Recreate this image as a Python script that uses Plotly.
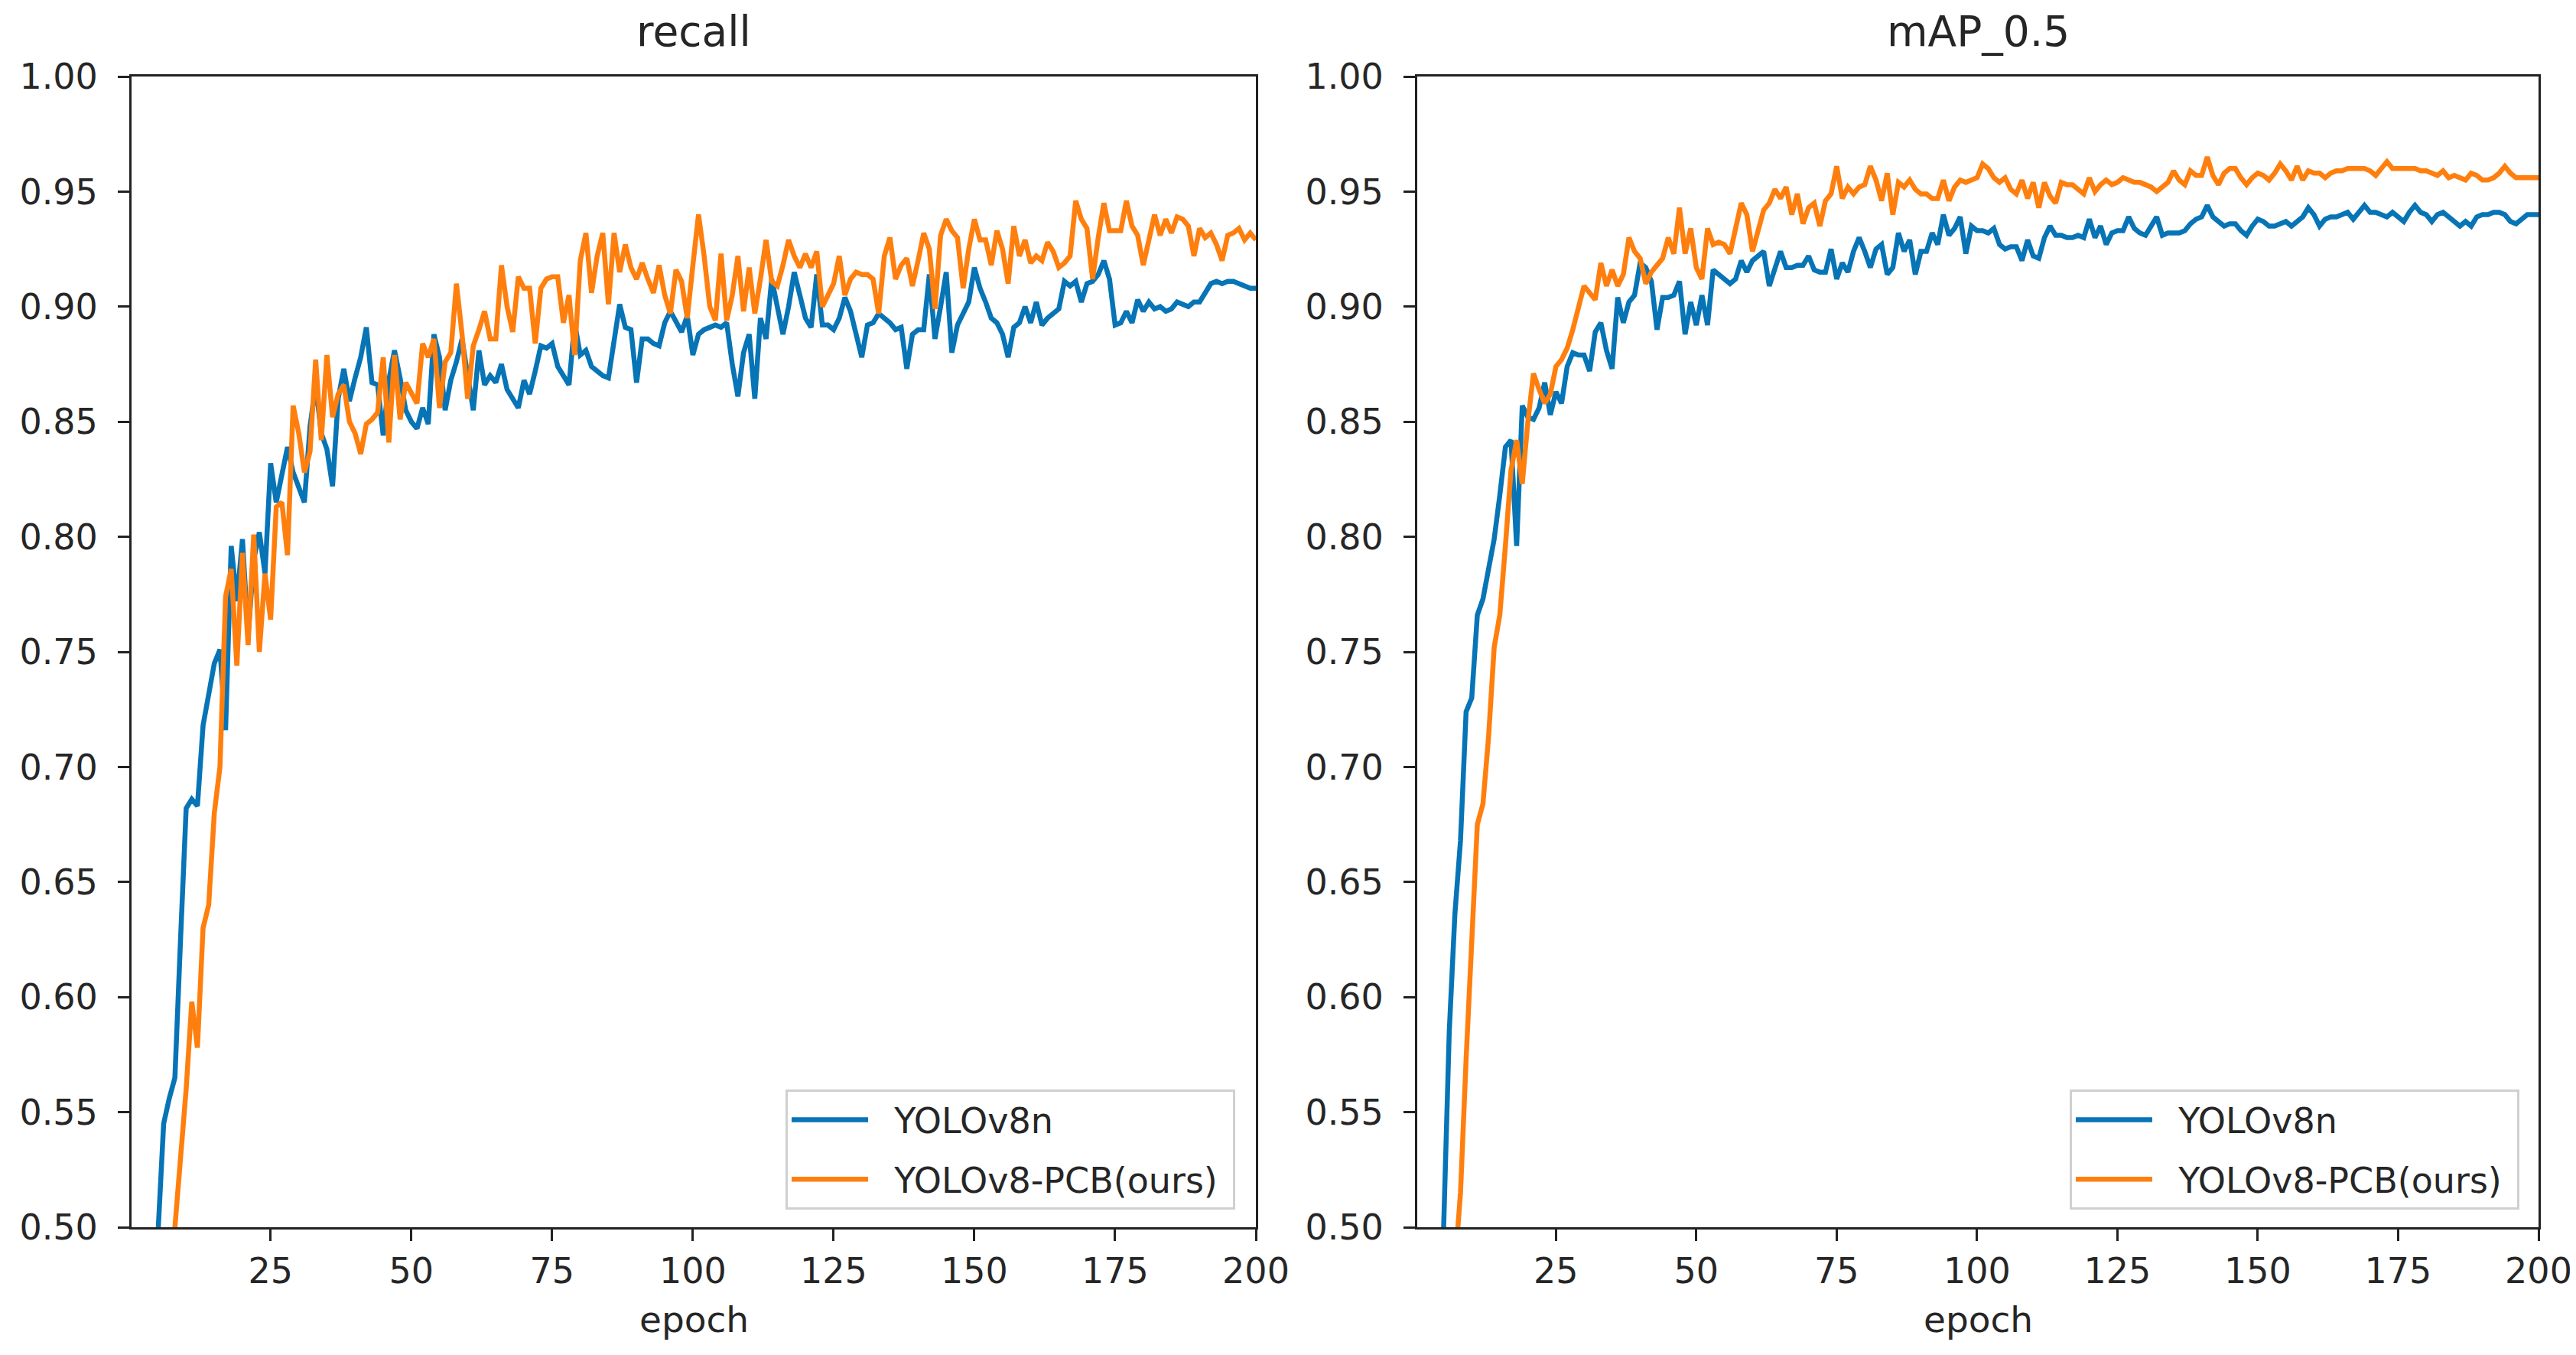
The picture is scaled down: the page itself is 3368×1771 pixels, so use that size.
import plotly.graph_objects as go

epochs = list(range(1, 201))

recall_yolov8n = [
    0.200, 0.300, 0.380, 0.450, 0.500, 0.545, 0.556, 0.565, 0.625, 0.682,
    0.686, 0.683, 0.718, 0.732, 0.745, 0.751, 0.716, 0.796, 0.772, 0.799,
    0.757, 0.790, 0.802, 0.784, 0.832, 0.815, 0.826, 0.839, 0.828, 0.822,
    0.815, 0.848, 0.866, 0.845, 0.838, 0.822, 0.860, 0.873, 0.859, 0.869,
    0.878, 0.891, 0.867, 0.866, 0.844, 0.868, 0.881, 0.869, 0.855, 0.850,
    0.847, 0.856, 0.849, 0.888, 0.878, 0.855, 0.868, 0.876, 0.886, 0.870,
    0.855, 0.881, 0.866, 0.870, 0.867, 0.875, 0.864, 0.860, 0.856, 0.868,
    0.862, 0.872, 0.883, 0.882, 0.884, 0.874, 0.870, 0.866, 0.893, 0.879,
    0.881, 0.874, 0.872, 0.870, 0.869, 0.885, 0.901, 0.891, 0.890, 0.867,
    0.886, 0.886, 0.884, 0.883, 0.893, 0.898, 0.893, 0.889, 0.896, 0.879,
    0.888, 0.890, 0.891, 0.892, 0.891, 0.893, 0.875, 0.861, 0.880, 0.888,
    0.860, 0.895, 0.886, 0.912, 0.900, 0.888, 0.900, 0.915, 0.905, 0.895,
    0.891, 0.914, 0.892, 0.892, 0.890, 0.895, 0.904, 0.898, 0.888, 0.878,
    0.892, 0.893, 0.897, 0.895, 0.893, 0.890, 0.891, 0.873, 0.888, 0.890,
    0.890, 0.914, 0.886, 0.900, 0.915, 0.880, 0.892, 0.897, 0.902, 0.917,
    0.908, 0.902, 0.895, 0.893, 0.888, 0.878, 0.891, 0.893, 0.900, 0.893,
    0.902, 0.892, 0.895, 0.897, 0.899, 0.911, 0.909, 0.911, 0.902, 0.910,
    0.911, 0.914, 0.920, 0.912, 0.892, 0.893, 0.898, 0.893, 0.903, 0.898,
    0.902, 0.899, 0.900, 0.898, 0.899, 0.902, 0.901, 0.900, 0.902, 0.902,
    0.906, 0.910, 0.911, 0.910, 0.911, 0.911, 0.910, 0.909, 0.908, 0.908,
]

recall_pcb = [
    0.150, 0.220, 0.300, 0.360, 0.410, 0.450, 0.480, 0.500, 0.530, 0.560,
    0.598, 0.578, 0.630, 0.640, 0.680, 0.700, 0.774, 0.786, 0.744, 0.793,
    0.753, 0.801, 0.750, 0.784, 0.764, 0.813, 0.815, 0.792, 0.857, 0.845,
    0.828, 0.837, 0.877, 0.842, 0.879, 0.852, 0.862, 0.866, 0.850, 0.845,
    0.836, 0.849, 0.851, 0.854, 0.878, 0.841, 0.879, 0.851, 0.867, 0.862,
    0.858, 0.884, 0.878, 0.886, 0.856, 0.876, 0.880, 0.910, 0.888, 0.860,
    0.883, 0.890, 0.898, 0.886, 0.886, 0.918, 0.900, 0.889, 0.913, 0.908,
    0.908, 0.884, 0.908, 0.912, 0.913, 0.913, 0.893, 0.905, 0.879, 0.920,
    0.932, 0.906, 0.922, 0.932, 0.901, 0.932, 0.915, 0.927, 0.917, 0.912,
    0.919, 0.912, 0.906, 0.918, 0.905, 0.897, 0.916, 0.911, 0.895, 0.918,
    0.940, 0.922, 0.900, 0.894, 0.923, 0.894, 0.905, 0.922, 0.898, 0.917,
    0.897, 0.912, 0.929, 0.911, 0.909, 0.918, 0.929, 0.922, 0.917, 0.923,
    0.917, 0.924, 0.900, 0.905, 0.910, 0.922, 0.905, 0.912, 0.915, 0.914,
    0.914, 0.912, 0.897, 0.922, 0.930, 0.912, 0.918, 0.921, 0.909, 0.920,
    0.932, 0.925, 0.899, 0.931, 0.938, 0.933, 0.930, 0.908, 0.925, 0.938,
    0.929, 0.929, 0.918, 0.933, 0.925, 0.910, 0.935, 0.922, 0.929, 0.919,
    0.922, 0.920, 0.928, 0.924, 0.917, 0.919, 0.922, 0.946, 0.938, 0.934,
    0.912, 0.930, 0.945, 0.933, 0.933, 0.933, 0.946, 0.935, 0.931, 0.918,
    0.929, 0.940, 0.931, 0.938, 0.932, 0.939, 0.938, 0.935, 0.922, 0.934,
    0.930, 0.932, 0.927, 0.920, 0.931, 0.932, 0.934, 0.929, 0.932, 0.929,
]

map50_yolov8n = [
    0.200, 0.300, 0.400, 0.460, 0.500, 0.585, 0.636, 0.668, 0.724, 0.730,
    0.766, 0.773, 0.787, 0.799, 0.818, 0.839, 0.842, 0.796, 0.857, 0.852,
    0.851, 0.856, 0.867, 0.853, 0.863, 0.858, 0.874, 0.880, 0.879, 0.879,
    0.872, 0.889, 0.893, 0.881, 0.873, 0.904, 0.893, 0.902, 0.905, 0.919,
    0.917, 0.911, 0.890, 0.904, 0.904, 0.905, 0.911, 0.888, 0.902, 0.892,
    0.905, 0.892, 0.916, 0.914, 0.912, 0.910, 0.912, 0.920, 0.915, 0.920,
    0.922, 0.924, 0.909, 0.917, 0.924, 0.917, 0.917, 0.918, 0.918, 0.922,
    0.916, 0.915, 0.915, 0.925, 0.912, 0.919, 0.915, 0.924, 0.930, 0.924,
    0.917, 0.925, 0.927, 0.914, 0.917, 0.932, 0.924, 0.929, 0.914, 0.924,
    0.924, 0.932, 0.927, 0.940, 0.931, 0.934, 0.939, 0.923, 0.935, 0.933,
    0.933, 0.932, 0.934, 0.927, 0.925, 0.926, 0.926, 0.920, 0.929, 0.922,
    0.921, 0.930, 0.935, 0.931, 0.931, 0.930, 0.930, 0.931, 0.930, 0.938,
    0.930, 0.935, 0.927, 0.932, 0.933, 0.933, 0.939, 0.934, 0.932, 0.931,
    0.935, 0.939, 0.931, 0.932, 0.932, 0.932, 0.933, 0.936, 0.938, 0.939,
    0.944, 0.939, 0.937, 0.935, 0.936, 0.936, 0.933, 0.931, 0.935, 0.938,
    0.937, 0.935, 0.935, 0.936, 0.937, 0.935, 0.937, 0.939, 0.943, 0.940,
    0.935, 0.938, 0.939, 0.939, 0.940, 0.941, 0.938, 0.941, 0.944, 0.941,
    0.941, 0.940, 0.939, 0.941, 0.939, 0.937, 0.941, 0.944, 0.941, 0.940,
    0.937, 0.940, 0.941, 0.939, 0.937, 0.935, 0.937, 0.935, 0.939, 0.940,
    0.940, 0.941, 0.941, 0.940, 0.937, 0.936, 0.938, 0.940, 0.940, 0.940,
]

map50_pcb = [
    0.150, 0.220, 0.300, 0.360, 0.410, 0.450, 0.480, 0.515, 0.573, 0.630,
    0.675, 0.684, 0.713, 0.752, 0.766, 0.796, 0.829, 0.842, 0.823, 0.850,
    0.871, 0.864, 0.858, 0.862, 0.874, 0.877, 0.882, 0.890, 0.900, 0.909,
    0.906, 0.903, 0.919, 0.909, 0.916, 0.909, 0.914, 0.930, 0.924, 0.921,
    0.910, 0.915, 0.918, 0.921, 0.930, 0.923, 0.943, 0.923, 0.934, 0.917,
    0.912, 0.934, 0.927, 0.928, 0.927, 0.923, 0.934, 0.945, 0.940, 0.924,
    0.933, 0.942, 0.945, 0.951, 0.947, 0.952, 0.940, 0.949, 0.936, 0.943,
    0.945, 0.935, 0.946, 0.949, 0.961, 0.947, 0.952, 0.949, 0.952, 0.953,
    0.961, 0.955, 0.946, 0.958, 0.940, 0.954, 0.952, 0.955, 0.951, 0.949,
    0.949, 0.947, 0.947, 0.955, 0.946, 0.952, 0.955, 0.954, 0.955, 0.956,
    0.962, 0.960, 0.956, 0.954, 0.956, 0.951, 0.949, 0.955, 0.947, 0.954,
    0.943, 0.954, 0.948, 0.945, 0.954, 0.953, 0.953, 0.951, 0.949, 0.956,
    0.950, 0.953, 0.955, 0.953, 0.954, 0.956, 0.955, 0.954, 0.954, 0.953,
    0.952, 0.950, 0.952, 0.954, 0.959, 0.955, 0.953, 0.959, 0.957, 0.957,
    0.965, 0.957, 0.953, 0.958, 0.960, 0.960, 0.956, 0.953, 0.956, 0.958,
    0.957, 0.955, 0.958, 0.962, 0.959, 0.955, 0.961, 0.955, 0.959, 0.958,
    0.958, 0.956, 0.958, 0.959, 0.959, 0.960, 0.960, 0.960, 0.960, 0.959,
    0.957, 0.960, 0.963, 0.960, 0.960, 0.960, 0.960, 0.960, 0.959, 0.959,
    0.958, 0.957, 0.959, 0.956, 0.957, 0.956, 0.955, 0.958, 0.957, 0.955,
    0.955, 0.956, 0.958, 0.961, 0.958, 0.956, 0.956, 0.956, 0.956, 0.956,
]

series_names = ["YOLOv8n", "YOLOv8-PCB(ours)"]
panel_titles = ["recall", "mAP_0.5"]
x_label = "epoch"
y_ticks = [0.50, 0.55, 0.60, 0.65, 0.70, 0.75, 0.80, 0.85, 0.90, 0.95, 1.00]
x_ticks = [25, 50, 75, 100, 125, 150, 175, 200]

BLUE = "#0774B6"
ORANGE = "#FF7F0E"
FONT = "DejaVu Sans"
TXT = "#262626"
PAD_L = "\u00a0\u00a0"
PAD_R = "\u00a0"

W, H = 3368, 1771
y_dom = [1 - 1596 / H, 1 - 92 / H]
x_dom1 = [164 / W, 1634 / W]
x_dom2 = [1845 / W, 3311 / W]

fig = go.Figure()

panels = [
    ("x", "y", "legend", recall_yolov8n, recall_pcb),
    ("x2", "y2", "legend2", map50_yolov8n, map50_pcb),
]
for xa, ya, lg, blue_vals, orange_vals in panels:
    for name, vals, color in zip(series_names, [blue_vals, orange_vals], [BLUE, ORANGE]):
        fig.add_trace(go.Scatter(
            x=epochs, y=vals, mode="lines", name=PAD_L + name + PAD_R,
            line=dict(color=color, width=6.5), xaxis=xa, yaxis=ya,
            legend=lg, legendgroup=lg + name,
        ))

xaxis_common = dict(range=[0.3, 200], tickvals=x_ticks, ticks="outside", ticklen=15, tickwidth=3,
                    tickcolor="#222", showline=True, linecolor="#222", linewidth=3, mirror=True,
                    showgrid=False, zeroline=False, automargin=False,
                    tickfont=dict(family=FONT, size=46, color=TXT))
yaxis_common = dict(range=[0.5, 1.0], tickvals=y_ticks, tickformat=".2f", ticks="outside",
                    ticklen=15, tickwidth=3, tickcolor="#222", showline=True, linecolor="#222",
                    linewidth=3, mirror=True, showgrid=False, zeroline=False, automargin=False,
                    ticklabelstandoff=17,
                    tickfont=dict(family=FONT, size=46, color=TXT))

legend_common = dict(font=dict(family=FONT, size=46, color=TXT), bgcolor="white",
                     bordercolor="#d0d0d0", borderwidth=3, xanchor="right", yanchor="bottom",
                     itemwidth=100, tracegroupgap=15)

fig.update_layout(
    width=W, height=H,
    margin=dict(l=0, r=0, t=0, b=0),
    paper_bgcolor="white", plot_bgcolor="white",
    showlegend=True,
    xaxis=dict(domain=x_dom1, anchor="y", **xaxis_common),
    yaxis=dict(domain=y_dom, anchor="x", **yaxis_common),
    xaxis2=dict(domain=x_dom2, anchor="y2", **xaxis_common),
    yaxis2=dict(domain=y_dom, anchor="x2", **yaxis_common),
    legend=dict(x=1607 / W, y=1 - 1573 / H, **legend_common),
    legend2=dict(x=3286 / W, y=1 - 1573 / H, **legend_common),
)

annotations = []
for dom, title in zip([x_dom1, x_dom2], panel_titles):
    cx = (dom[0] + dom[1]) / 2
    annotations.append(dict(text=title, x=cx, y=1 - 33 / H, xref="paper", yref="paper",
                            xanchor="center", yanchor="middle", showarrow=False,
                            font=dict(family=FONT, size=55, color=TXT)))
    annotations.append(dict(text=x_label, x=cx, y=1 - 1716 / H, xref="paper", yref="paper",
                            xanchor="center", yanchor="middle", showarrow=False,
                            font=dict(family=FONT, size=47, color=TXT)))
fig.update_layout(annotations=annotations)

fig.write_html("out.html")
